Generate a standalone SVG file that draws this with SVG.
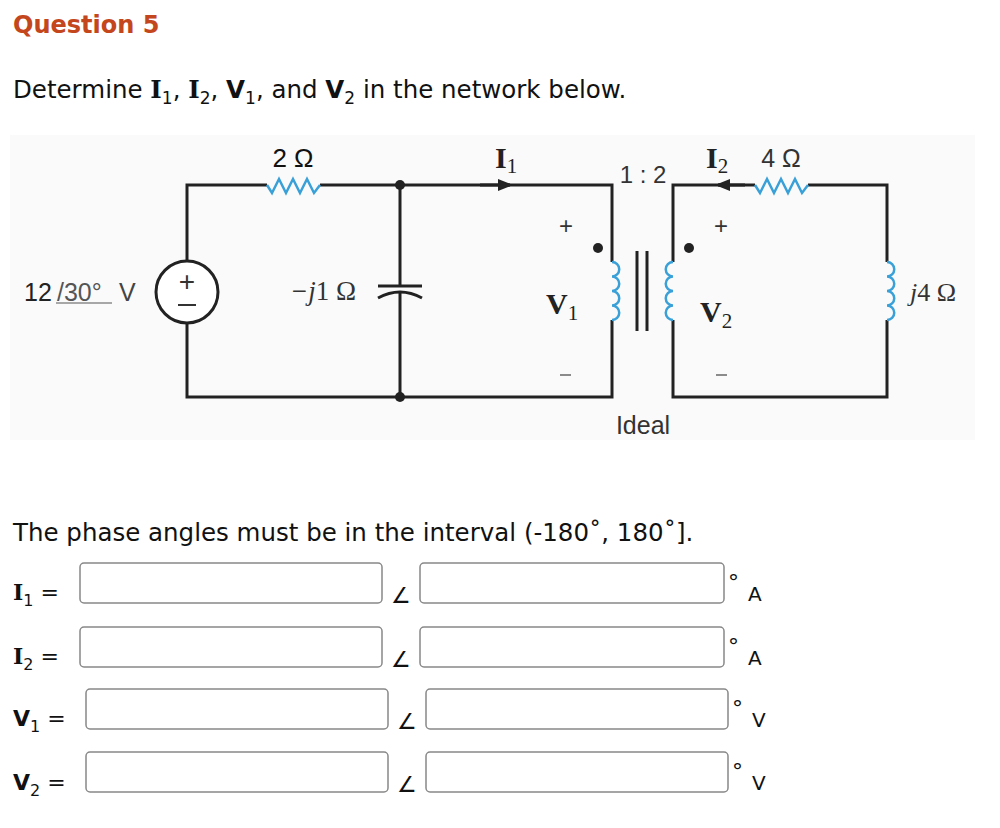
<svg xmlns="http://www.w3.org/2000/svg" width="1000" height="828" viewBox="0 0 1000 828">
<style>
.t{font-family:"DejaVu Sans",Verdana,sans-serif;fill:#111}
.w{stroke:#222;stroke-width:3;fill:none}
.b{stroke:#3aa0d8;stroke-width:2.5;fill:none}
.box{fill:#fff;stroke:#888;stroke-width:1.5}
.s{font-family:"Liberation Serif",serif;fill:#333}
.h{font-family:"Liberation Sans",Arial,sans-serif;fill:#333}
</style>
<defs><marker id="ar" viewBox="0 0 10 10" refX="8" refY="5" markerWidth="5" markerHeight="5" orient="auto"><path d="M0,1 L10,5 L0,9 Z" fill="#222"/></marker></defs>
<rect width="1000" height="828" fill="#fff"/>
<text x="13" y="33" class="t" style="fill:#c4461c;font-weight:bold;font-size:24px">Question 5</text>
<text x="13" y="98" class="t" font-size="24.5">Determine <tspan font-weight="bold" font-family="DejaVu Serif,serif">I</tspan><tspan font-size="17" dy="6">1</tspan><tspan dy="-6">, </tspan><tspan font-weight="bold" font-family="DejaVu Serif,serif">I</tspan><tspan font-size="17" dy="6">2</tspan><tspan dy="-6">, </tspan><tspan font-weight="bold">V</tspan><tspan font-size="17" dy="6">1</tspan><tspan dy="-6">, and </tspan><tspan font-weight="bold">V</tspan><tspan font-size="17" dy="6">2</tspan><tspan dy="-6"> in the network below.</tspan></text>
<rect x="10" y="135" width="965" height="305" fill="#fafafa"/>
<g id="connectors">
<path class="w" d="M187,261 V185 H267 M320,185 H612 V262 M612,320 V397 H187 V323"/>
<path class="w" d="M400,185 V286 M400,293 V397"/>
<path class="w" d="M673,262 V185 H755 M808,185 H887 V262 M887,320 V397 H673 V320"/>
<path class="w" d="M480,185 H510" marker-end="url(#ar)"/>
<path class="w" d="M745,185 H718" marker-end="url(#ar)"/>
</g>
<g id="n_source"><circle cx="187" cy="292" r="31" fill="#fff" stroke="#222" stroke-width="3"/>
<text x="187" y="291" text-anchor="middle" class="h" font-size="28">+</text><line x1="178" y1="305" x2="196" y2="305" stroke="#333" stroke-width="2"/>
<text x="24" y="301" class="h" font-size="25" style="fill:#222">12</text><text x="57" y="301" class="h" font-size="25" style="fill:#555">/30°</text><text x="119" y="301" class="h" font-size="25" style="fill:#444">V</text><line x1="56" y1="303" x2="112" y2="303" stroke="#555" stroke-width="1.2"/></g>
<g id="n_r2"><path class="b" d="M267,185 l5,8 l7,-14 l7,14 l7,-14 l7,14 l7,-14 l7,14 l6,-8"/><text x="293" y="167" text-anchor="middle" class="h" font-size="26" style="fill:#111">2 Ω</text></g>
<g id="n_cap"><line x1="378" y1="286" x2="422" y2="286" stroke="#222" stroke-width="3"/><path d="M378,298 Q400,286 422,298" stroke="#222" stroke-width="3" fill="none"/><text x="290" y="300" class="s" font-size="27" font-style="italic">−j<tspan font-style="normal">1 Ω</tspan></text></g>
<g id="n_dots"><circle cx="400" cy="185" r="5" fill="#222"/><circle cx="400" cy="397" r="5" fill="#222"/></g>
<g id="n_xfmr">
<path class="b" d="M612,262 a7,7 0 0 1 0,14.5 a7,7 0 0 1 0,14.5 a7,7 0 0 1 0,14.5 a7,7 0 0 1 0,14.5"/>
<path class="b" d="M673,262 a7,7 0 0 0 0,14.5 a7,7 0 0 0 0,14.5 a7,7 0 0 0 0,14.5 a7,7 0 0 0 0,14.5"/>
<line x1="637" y1="251" x2="637" y2="331" stroke="#222" stroke-width="3"/><line x1="647" y1="251" x2="647" y2="331" stroke="#222" stroke-width="3"/>
<circle cx="598" cy="248" r="5" fill="#222"/><circle cx="689" cy="248" r="5" fill="#222"/>
<text x="643" y="183" text-anchor="middle" class="h" font-size="24">1 : 2</text>
<text x="643" y="434" text-anchor="middle" class="h" font-size="25">Ideal</text>
<text x="566" y="234" text-anchor="middle" class="h" font-size="24">+</text><line x1="560" y1="375" x2="571" y2="375" stroke="#666" stroke-width="1.5"/>
<text x="721" y="234" text-anchor="middle" class="h" font-size="24">+</text><line x1="716" y1="375" x2="727" y2="375" stroke="#666" stroke-width="1.5"/>
<text x="546" y="314" class="s" font-size="30" font-weight="bold" style="fill:#222">V<tspan font-size="21" font-weight="normal" dy="6">1</tspan></text>
<text x="700" y="322" class="s" font-size="30" font-weight="bold" style="fill:#222">V<tspan font-size="21" font-weight="normal" dy="6">2</tspan></text>
<text x="495" y="168" class="s" font-size="30" font-weight="bold" style="fill:#222">I<tspan font-size="21" font-weight="normal" dy="5">1</tspan></text>
<text x="706" y="168" class="s" font-size="30" font-weight="bold" style="fill:#222">I<tspan font-size="21" font-weight="normal" dy="5">2</tspan></text></g>
<g id="n_r4"><path class="b" d="M755,185 l5,8 l7,-14 l7,14 l7,-14 l7,14 l7,-14 l7,14 l6,-8"/><text x="781" y="167" text-anchor="middle" class="h" font-size="25">4 Ω</text></g>
<g id="n_l4"><path class="b" d="M887,262 a7,7 0 0 1 0,14.5 a7,7 0 0 1 0,14.5 a7,7 0 0 1 0,14.5 a7,7 0 0 1 0,14.5"/><text x="910" y="301" class="s" font-size="26" font-style="italic">j<tspan font-style="normal">4 Ω</tspan></text></g>
<text x="13" y="541" class="t" font-size="24.5">The phase angles must be in the interval (-180˚, 180˚].</text>
<g id="form" font-size="22">
<text x="13" y="600" class="t"><tspan font-weight="bold" font-family="DejaVu Serif,serif">I</tspan><tspan font-size="16" dy="6">1</tspan><tspan dy="-6"> =</tspan></text>
<rect x="80" y="563" width="302" height="40" rx="4" class="box"/><text x="391" y="603" class="t" font-size="22">∠</text><rect x="420" y="563" width="304" height="40" rx="4" class="box"/><text x="728" y="590" class="t" font-size="22">°</text><text x="748" y="601" class="t" font-size="20">A</text>
<text x="13" y="664" class="t"><tspan font-weight="bold" font-family="DejaVu Serif,serif">I</tspan><tspan font-size="16" dy="6">2</tspan><tspan dy="-6"> =</tspan></text>
<rect x="80" y="627" width="302" height="40" rx="4" class="box"/><text x="391" y="667" class="t" font-size="22">∠</text><rect x="420" y="627" width="304" height="40" rx="4" class="box"/><text x="728" y="654" class="t" font-size="22">°</text><text x="748" y="665" class="t" font-size="20">A</text>
<text x="13" y="726" class="t"><tspan font-weight="bold">V</tspan><tspan font-size="16" dy="6">1</tspan><tspan dy="-6"> =</tspan></text>
<rect x="86" y="689" width="302" height="40" rx="4" class="box"/><text x="397" y="729" class="t" font-size="22">∠</text><rect x="426" y="689" width="302" height="40" rx="4" class="box"/><text x="732" y="716" class="t" font-size="22">°</text><text x="752" y="727" class="t" font-size="20">V</text>
<text x="13" y="790" class="t"><tspan font-weight="bold">V</tspan><tspan font-size="16" dy="6">2</tspan><tspan dy="-6"> =</tspan></text>
<rect x="86" y="752" width="302" height="40" rx="4" class="box"/><text x="397" y="792" class="t" font-size="22">∠</text><rect x="426" y="752" width="302" height="40" rx="4" class="box"/><text x="732" y="779" class="t" font-size="22">°</text><text x="752" y="790" class="t" font-size="20">V</text>
</g>
</svg>
